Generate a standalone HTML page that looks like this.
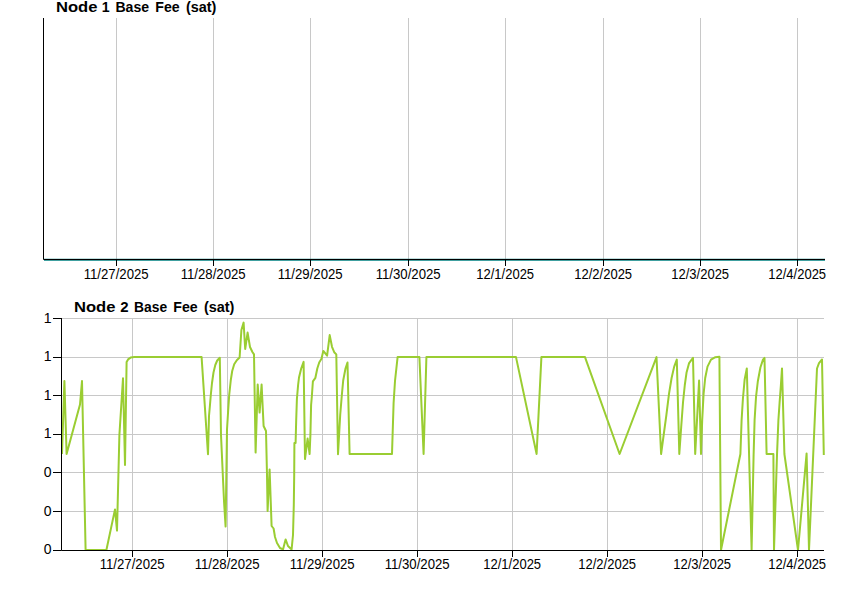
<!DOCTYPE html><html><head><meta charset="utf-8"><title>Base Fee</title>
<style>html,body{margin:0;padding:0;background:#fff;}svg{display:block}text{font-family:"Liberation Sans",sans-serif;fill:#000}.t{font-weight:bold;font-size:14.6px}.l{font-size:14px}</style></head><body>
<svg width="860" height="600" viewBox="0 0 860 600">
<rect width="860" height="600" fill="#fff"/>
<text class="t"><tspan x="55.96" y="11.8" textLength="41.48" lengthAdjust="spacingAndGlyphs">Node</tspan> <tspan x="101.83" y="11.8" textLength="7.89" lengthAdjust="spacingAndGlyphs">1</tspan> <tspan x="115.44" y="11.8" textLength="33.66" lengthAdjust="spacingAndGlyphs">Base</tspan> <tspan x="155.33" y="11.8" textLength="24.32" lengthAdjust="spacingAndGlyphs">Fee</tspan> <tspan x="185.90" y="11.8" textLength="30.51" lengthAdjust="spacingAndGlyphs">(sat)</tspan></text>
<line x1="116.50" y1="18" x2="116.50" y2="259" stroke="#c8c8c8" stroke-width="1"/>
<line x1="213.50" y1="18" x2="213.50" y2="259" stroke="#c8c8c8" stroke-width="1"/>
<line x1="310.50" y1="18" x2="310.50" y2="259" stroke="#c8c8c8" stroke-width="1"/>
<line x1="408.50" y1="18" x2="408.50" y2="259" stroke="#c8c8c8" stroke-width="1"/>
<line x1="505.50" y1="18" x2="505.50" y2="259" stroke="#c8c8c8" stroke-width="1"/>
<line x1="603.50" y1="18" x2="603.50" y2="259" stroke="#c8c8c8" stroke-width="1"/>
<line x1="700.50" y1="18" x2="700.50" y2="259" stroke="#c8c8c8" stroke-width="1"/>
<line x1="797.50" y1="18" x2="797.50" y2="259" stroke="#c8c8c8" stroke-width="1"/>
<line x1="44" y1="259.75" x2="825" y2="259.75" stroke="#008080" stroke-width="2"/>
<polyline points="43.5,18 43.5,259.5 825,259.5" fill="none" stroke="#000" stroke-width="1"/>
<line x1="116.50" y1="259.5" x2="116.50" y2="266" stroke="#000" stroke-width="1"/>
<text class="l" x="83.7" y="279" textLength="65.0" lengthAdjust="spacingAndGlyphs">11/27/2025</text>
<line x1="213.50" y1="259.5" x2="213.50" y2="266" stroke="#000" stroke-width="1"/>
<text class="l" x="180.7" y="279" textLength="65.0" lengthAdjust="spacingAndGlyphs">11/28/2025</text>
<line x1="310.50" y1="259.5" x2="310.50" y2="266" stroke="#000" stroke-width="1"/>
<text class="l" x="277.7" y="279" textLength="65.0" lengthAdjust="spacingAndGlyphs">11/29/2025</text>
<line x1="408.50" y1="259.5" x2="408.50" y2="266" stroke="#000" stroke-width="1"/>
<text class="l" x="375.7" y="279" textLength="65.0" lengthAdjust="spacingAndGlyphs">11/30/2025</text>
<line x1="505.50" y1="259.5" x2="505.50" y2="266" stroke="#000" stroke-width="1"/>
<text class="l" x="476.3" y="279" textLength="57.8" lengthAdjust="spacingAndGlyphs">12/1/2025</text>
<line x1="603.50" y1="259.5" x2="603.50" y2="266" stroke="#000" stroke-width="1"/>
<text class="l" x="574.3" y="279" textLength="57.8" lengthAdjust="spacingAndGlyphs">12/2/2025</text>
<line x1="700.50" y1="259.5" x2="700.50" y2="266" stroke="#000" stroke-width="1"/>
<text class="l" x="671.3" y="279" textLength="57.8" lengthAdjust="spacingAndGlyphs">12/3/2025</text>
<line x1="797.50" y1="259.5" x2="797.50" y2="266" stroke="#000" stroke-width="1"/>
<text class="l" x="768.3" y="279" textLength="57.8" lengthAdjust="spacingAndGlyphs">12/4/2025</text>
<text class="t"><tspan x="73.96" y="311.5" textLength="41.48" lengthAdjust="spacingAndGlyphs">Node</tspan> <tspan x="120.30" y="311.5" textLength="8.33" lengthAdjust="spacingAndGlyphs">2</tspan> <tspan x="134.05" y="311.5" textLength="33.04" lengthAdjust="spacingAndGlyphs">Base</tspan> <tspan x="173.33" y="311.5" textLength="24.32" lengthAdjust="spacingAndGlyphs">Fee</tspan> <tspan x="203.90" y="311.5" textLength="30.51" lengthAdjust="spacingAndGlyphs">(sat)</tspan></text>
<line x1="132.50" y1="318" x2="132.50" y2="550" stroke="#c8c8c8" stroke-width="1"/>
<line x1="227.50" y1="318" x2="227.50" y2="550" stroke="#c8c8c8" stroke-width="1"/>
<line x1="322.50" y1="318" x2="322.50" y2="550" stroke="#c8c8c8" stroke-width="1"/>
<line x1="417.50" y1="318" x2="417.50" y2="550" stroke="#c8c8c8" stroke-width="1"/>
<line x1="512.50" y1="318" x2="512.50" y2="550" stroke="#c8c8c8" stroke-width="1"/>
<line x1="607.50" y1="318" x2="607.50" y2="550" stroke="#c8c8c8" stroke-width="1"/>
<line x1="702.50" y1="318" x2="702.50" y2="550" stroke="#c8c8c8" stroke-width="1"/>
<line x1="797.50" y1="318" x2="797.50" y2="550" stroke="#c8c8c8" stroke-width="1"/>
<line x1="62" y1="318.50" x2="824" y2="318.50" stroke="#c8c8c8" stroke-width="1"/>
<line x1="62" y1="357.50" x2="824" y2="357.50" stroke="#c8c8c8" stroke-width="1"/>
<line x1="62" y1="395.50" x2="824" y2="395.50" stroke="#c8c8c8" stroke-width="1"/>
<line x1="62" y1="434.50" x2="824" y2="434.50" stroke="#c8c8c8" stroke-width="1"/>
<line x1="62" y1="472.50" x2="824" y2="472.50" stroke="#c8c8c8" stroke-width="1"/>
<line x1="62" y1="511.50" x2="824" y2="511.50" stroke="#c8c8c8" stroke-width="1"/>
<polyline points="62.0,454.0 64.4,381.0 66.6,454.0 80.0,404.5 82.0,381.0 85.6,550.0 106.4,550.0 115.0,509.4 117.0,530.6 119.4,435.0 123.0,378.3 125.0,465.0 126.6,362.0 128.1,359.4 130.6,357.6 134.4,357.1 201.6,357.1 208.0,454.2 209.0,416.0 209.8,407.0 210.8,395.0 212.0,383.0 213.5,372.5 215.3,365.0 217.2,360.5 219.8,357.8 221.0,435.0 224.0,501.0 225.6,526.6 227.0,429.5 228.2,410.0 229.2,395.0 230.8,380.0 232.2,371.0 234.2,364.3 236.8,360.2 239.6,357.5 241.4,330.0 243.6,322.6 245.2,349.0 247.6,332.6 250.0,347.0 252.4,352.0 254.0,354.4 255.6,452.6 257.7,384.6 259.6,412.6 261.6,384.6 263.6,426.0 266.0,431.0 267.0,475.0 267.6,511.0 269.6,469.4 271.6,526.0 273.6,528.5 275.0,537.0 277.0,543.0 280.0,548.0 283.0,549.4 285.6,539.4 288.0,546.0 291.6,549.4 293.0,535.0 293.8,505.0 294.2,475.0 294.4,443.0 295.6,443.0 296.2,420.0 296.9,399.0 298.1,385.0 299.0,377.5 301.2,368.5 303.6,361.9 305.0,459.0 307.6,438.6 309.6,454.0 310.4,435.0 311.1,405.0 311.8,397.0 312.9,381.3 315.4,377.8 317.3,368.5 319.2,362.5 321.5,358.8 323.3,350.9 327.1,355.7 329.7,335.1 332.0,346.8 334.2,352.2 336.3,354.4 338.0,454.2 340.2,415.0 341.8,395.5 343.2,380.5 345.5,368.5 347.5,362.5 349.6,454.0 392.0,454.0 393.6,403.0 395.0,381.0 397.6,357.1 419.4,357.1 423.6,454.0 426.4,357.1 516.0,357.1 536.6,454.0 541.4,357.1 585.0,357.1 619.6,454.0 656.5,357.1 661.1,454.0 663.8,434.0 666.4,414.8 669.0,393.8 671.6,378.0 674.2,366.6 676.8,359.6 679.3,454.0 681.2,427.0 683.0,402.5 684.8,385.0 686.5,372.8 689.1,363.1 693.0,357.9 695.2,454.0 699.1,380.6 701.0,454.0 702.2,420.0 703.6,393.8 705.2,378.0 707.5,366.6 711.0,359.6 715.4,357.2 719.4,356.7 721.0,550.0 740.4,454.0 741.6,420.0 742.9,399.0 744.6,379.8 746.8,368.4 751.6,550.0 753.6,455.0 754.6,420.0 756.0,397.2 757.8,381.5 760.4,367.5 763.0,359.6 764.5,357.9 766.6,454.0 773.4,454.0 774.0,550.0 777.0,455.0 778.4,420.0 779.6,402.5 780.9,385.0 782.0,368.4 784.4,454.0 798.0,550.0 806.6,453.4 809.0,550.0 817.0,368.5 819.0,363.1 822.0,359.5 823.8,455.0" fill="none" stroke="#9acd32" stroke-width="2" stroke-linejoin="round"/>
<polyline points="61.5,318 61.5,550.5 824,550.5" fill="none" stroke="#000" stroke-width="1"/>
<line x1="53" y1="318.50" x2="61.5" y2="318.50" stroke="#000" stroke-width="1"/>
<text class="l" x="51.6" y="323" text-anchor="end">1</text>
<line x1="53" y1="357.50" x2="61.5" y2="357.50" stroke="#000" stroke-width="1"/>
<text class="l" x="51.6" y="361" text-anchor="end">1</text>
<line x1="53" y1="395.50" x2="61.5" y2="395.50" stroke="#000" stroke-width="1"/>
<text class="l" x="51.6" y="400" text-anchor="end">1</text>
<line x1="53" y1="434.50" x2="61.5" y2="434.50" stroke="#000" stroke-width="1"/>
<text class="l" x="51.6" y="438" text-anchor="end">1</text>
<line x1="53" y1="472.50" x2="61.5" y2="472.50" stroke="#000" stroke-width="1"/>
<text class="l" x="51.6" y="477" text-anchor="end">0</text>
<line x1="53" y1="511.50" x2="61.5" y2="511.50" stroke="#000" stroke-width="1"/>
<text class="l" x="51.6" y="516" text-anchor="end">0</text>
<line x1="53" y1="550.50" x2="61.5" y2="550.50" stroke="#000" stroke-width="1"/>
<text class="l" x="51.6" y="554" text-anchor="end">0</text>
<line x1="132.50" y1="550.5" x2="132.50" y2="557" stroke="#000" stroke-width="1"/>
<text class="l" x="99.7" y="569" textLength="65.0" lengthAdjust="spacingAndGlyphs">11/27/2025</text>
<line x1="227.50" y1="550.5" x2="227.50" y2="557" stroke="#000" stroke-width="1"/>
<text class="l" x="194.7" y="569" textLength="65.0" lengthAdjust="spacingAndGlyphs">11/28/2025</text>
<line x1="322.50" y1="550.5" x2="322.50" y2="557" stroke="#000" stroke-width="1"/>
<text class="l" x="289.7" y="569" textLength="65.0" lengthAdjust="spacingAndGlyphs">11/29/2025</text>
<line x1="417.50" y1="550.5" x2="417.50" y2="557" stroke="#000" stroke-width="1"/>
<text class="l" x="384.7" y="569" textLength="65.0" lengthAdjust="spacingAndGlyphs">11/30/2025</text>
<line x1="512.50" y1="550.5" x2="512.50" y2="557" stroke="#000" stroke-width="1"/>
<text class="l" x="483.3" y="569" textLength="57.8" lengthAdjust="spacingAndGlyphs">12/1/2025</text>
<line x1="607.50" y1="550.5" x2="607.50" y2="557" stroke="#000" stroke-width="1"/>
<text class="l" x="578.3" y="569" textLength="57.8" lengthAdjust="spacingAndGlyphs">12/2/2025</text>
<line x1="702.50" y1="550.5" x2="702.50" y2="557" stroke="#000" stroke-width="1"/>
<text class="l" x="673.3" y="569" textLength="57.8" lengthAdjust="spacingAndGlyphs">12/3/2025</text>
<line x1="797.50" y1="550.5" x2="797.50" y2="557" stroke="#000" stroke-width="1"/>
<text class="l" x="768.3" y="569" textLength="57.8" lengthAdjust="spacingAndGlyphs">12/4/2025</text>
</svg></body></html>
